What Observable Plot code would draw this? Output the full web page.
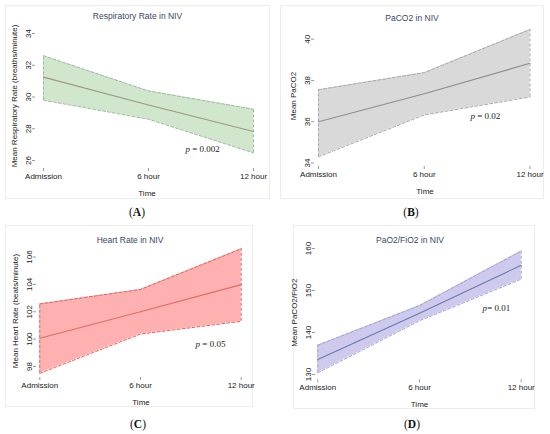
<!DOCTYPE html>
<html><head><meta charset="utf-8">
<script src="https://cdn.jsdelivr.net/npm/d3@7"></script>
<script src="https://cdn.jsdelivr.net/npm/@observablehq/plot@0.6"></script>
<style>
body{margin:0;background:#fff;font-family:"Liberation Sans",Arial,sans-serif;}
#root{position:relative;width:550px;height:434px;overflow:hidden;background:#fff;}
.box{position:absolute;border:1px solid #ececec;box-sizing:border-box;}
.title{position:absolute;font-size:8.5px;color:#3b4766;transform:translate(-50%,-50%);white-space:nowrap;}
.plabel{position:absolute;font-family:"Liberation Serif","Times New Roman",serif;font-size:11.5px;color:#111;transform:translate(-50%,-50%);white-space:nowrap;}
.plot{position:absolute;}
</style></head><body><div id="root"></div>
<script>
// ---- data ----
const times = ["Admission", "6 hour", "12 hour"];
const hours = [0, 6, 12];

const rrMean  = [31.25, 29.5, 27.83];
const rrLower = [29.8, 28.6, 26.48];
const rrUpper = [32.6, 30.38, 29.23];
const rrTicks = [26, 28, 30, 32, 34];

const co2Mean  = [36.0, 37.36, 38.83];
const co2Lower = [34.3, 36.33, 37.2];
const co2Upper = [37.55, 38.38, 40.47];
const co2Ticks = [34, 36, 38, 40];

const hrMean  = [100.07, 102.0, 103.98];
const hrLower = [97.5, 100.37, 101.3];
const hrUpper = [102.57, 103.63, 106.6];
const hrTicks = [98, 100, 102, 104, 106];

const pfMean  = [133.6, 144.6, 156.0];
const pfLower = [130.4, 142.8, 152.7];
const pfUpper = [136.98, 146.4, 159.4];
const pfTicks = [130, 140, 150, 160];

const titles  = ["Respiratory Rate in NIV", "PaCO2 in NIV", "Heart Rate in NIV", "PaO2/FiO2 in NIV"];
const yLabels = ["Mean Respiratory Rate (breaths/minute)", "Mean PaCO2", "Mean Heart Rate (beats/minute)", "Mean PaCO2/FiO2"];
const pSym    = ["p", "p", "p", "p"];
const pRest   = ["= 0.002", "= 0.02", "= 0.05", "= 0.01"];
const pX      = [8.11, 8.62, 9.28, 9.72];
const pY      = [26.69, 36.25, 99.63, 145.7];
const panelTags = ["A", "B", "C", "D"];

// ---- layout (pixels) ----
const panels = [
  {ox:0, oy:0, box:[5,5,270,199], frame:[35,258,23,168], xr:[43,253], yd:[26,34], yr:[160,33],
   title:[137.5,16], tag:[137,212], mean:rrMean, lower:rrLower, upper:rrUpper, ticks:rrTicks,
   fill:"#d0e6cd", dash:"#9db99a", line:"#9c9a80", pdx:6.8},
  {ox:275, oy:0, box:[280,5,544,199], frame:[314,535,25,166], xr:[318,529.5], yd:[34,40], yr:[162.5,38.7],
   title:[412,18], tag:[411,212], mean:co2Mean, lower:co2Lower, upper:co2Upper, ticks:co2Ticks,
   fill:"#d9d9d9", dash:"#a8a8a8", line:"#8e8e8e", pdx:6.8},
  {ox:0, oy:217, box:[5,225,253,407], frame:[36,245,244,377], xr:[39.3,240.7], yd:[98,106], yr:[366,256.5],
   title:[130,239.7], tag:[138,423.5], mean:hrMean, lower:hrLower, upper:hrUpper, ticks:hrTicks,
   fill:"#ffb1b1", dash:"#e0625f", line:"#e26a68", pdx:6.8},
  {ox:275, oy:217, box:[293,225,535,409], frame:[315,523,245,379.3], xr:[317.3,520.7], yd:[130,160], yr:[374,248],
   title:[410,239.7], tag:[412,424], mean:pfMean, lower:pfLower, upper:pfUpper, ticks:pfTicks,
   fill:"#cecaee", dash:"#a29edb", line:"#6c7aa8", pdx:4.6}
];
const W = 275, H = 217;
const sans = "'Liberation Sans', Arial, sans-serif";
const serif = "'Liberation Serif', 'Times New Roman', serif";

const root = document.getElementById("root");

panels.forEach((c, i) => {
  const box = document.createElement("div");
  box.className = "box";
  Object.assign(box.style, {left: c.box[0]+"px", top: c.box[1]+"px", width: (c.box[2]-c.box[0])+"px", height: (c.box[3]-c.box[1])+"px"});
  root.appendChild(box);

  const data = hours.map((t, k) => ({t, m: c.mean[k], lo: c.lower[k], hi: c.upper[k]}));
  const ends = [data[0], data[data.length-1]];
  const ptext = [{x: pX[i], y: pY[i], s: pSym[i], r: pRest[i]}];
  const mL = c.frame[0]-c.ox, mR = c.ox+W-c.frame[1], mT = c.frame[2]-c.oy, mB = c.oy+H-c.frame[3];
  const dashStyle = {stroke: c.dash, strokeWidth: 1, strokeDasharray: "3,2"};

  const svg = Plot.plot({
    width: W, height: H,
    marginLeft: mL, marginRight: mR, marginTop: mT, marginBottom: mB,
    style: {background: "transparent", fontFamily: sans, fontSize: "8px", color: "#222", overflow: "visible"},
    x: {domain: [0, 12], range: [c.xr[0]-c.ox, c.xr[1]-c.ox]},
    y: {domain: c.yd, range: [c.yr[0]-c.oy, c.yr[1]-c.oy]},
    marks: [
      Plot.areaY(data, {x: "t", y1: "lo", y2: "hi", fill: c.fill}),
      Plot.line(data, {x: "t", y: "hi", ...dashStyle}),
      Plot.line(data, {x: "t", y: "lo", ...dashStyle}),
      Plot.ruleX(ends, {x: "t", y1: "lo", y2: "hi", ...dashStyle}),
      Plot.line(data, {x: "t", y: "m", stroke: c.line, strokeWidth: 1.1}),
      Plot.axisX({ticks: hours, tickFormat: d => times[hours.indexOf(d)], tickSize: 3, tickPadding: 2,
        stroke: "#9a9a9a", fill: "#222", line: true, label: "Time", labelAnchor: "center", labelArrow: "none",
        labelOffset: 27, fontSize: 8}),
      Plot.axisY({ticks: c.ticks, tickFormat: d => String(d), tickRotate: -90, tickSize: 3, tickPadding: 2,
        stroke: "#9a9a9a", fill: "#222", line: true, label: yLabels[i], labelAnchor: "center", labelArrow: "none",
        labelOffset: 24, fontSize: 8}),
      Plot.text(ptext, {x: "x", y: "y", text: "s", textAnchor: "start", fontStyle: "italic",
        fontFamily: serif, fontSize: 9, fill: "#222"}),
      Plot.text(ptext, {x: "x", y: "y", text: "r", textAnchor: "start", dx: c.pdx,
        fontFamily: serif, fontSize: 9, fill: "#222"})
    ]
  });
  svg.classList.add("plot");
  svg.style.left = c.ox + "px";
  svg.style.top = c.oy + "px";
  root.appendChild(svg);

  const t = document.createElement("div");
  t.className = "title";
  t.textContent = titles[i];
  t.style.left = c.title[0] + "px"; t.style.top = c.title[1] + "px";
  root.appendChild(t);

  const g = document.createElement("div");
  g.className = "plabel";
  g.innerHTML = "(<b>" + panelTags[i] + "</b>)";
  g.style.left = c.tag[0] + "px"; g.style.top = c.tag[1] + "px";
  root.appendChild(g);
});
</script></body></html>
